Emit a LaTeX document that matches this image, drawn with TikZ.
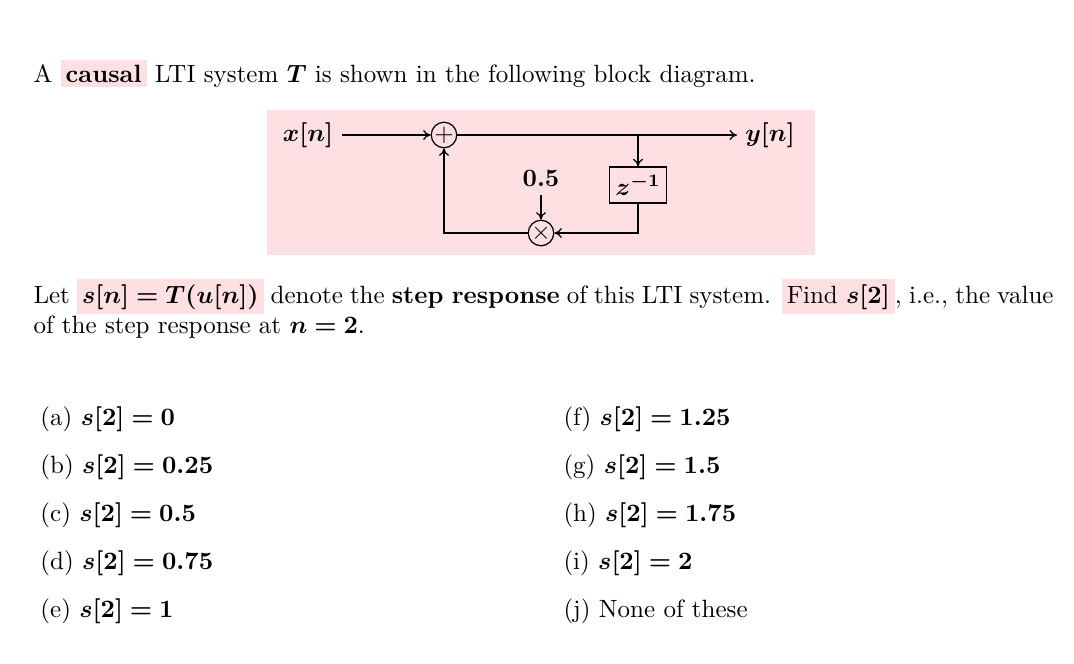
\documentclass[tikz,border=0pt]{standalone}
\usepackage{amsmath,bm}
\usetikzlibrary{arrows.meta}
\definecolor{hl}{RGB}{255,224,226}
\newcommand{\hlx}[1]{{\setlength{\fboxsep}{2pt}\colorbox{hl}{#1}}}
\tikzset{
  txt/.style={anchor=base west, inner sep=0pt},
  wire/.style={line width=0.5pt},
  arr/.style={wire,-{To[length=3pt,width=4pt]}},
  op/.style={circle,draw,line width=0.5pt,minimum size=8.4pt,inner sep=0pt},
  dbox/.style={draw,line width=0.5pt,minimum width=22.8pt,minimum height=14.4pt,inner sep=0pt}
}
\begin{document}
\begin{tikzpicture}[x=0.4pt,y=-0.4pt]
\useasboundingbox (0,0) rectangle (1074,663);
\node[txt] (l1) at (33,82) {A \hlx{\textbf{causal}} LTI system $\bm{T}$ is shown in the following block diagram.};
\fill[hl] (267,110) rectangle (815,255);
\node (x) at (308,135) {$\bm{x[n]}$};
\node[op] (add) at (444,135) {$+$};
\node (y) at (770,135) {$\bm{y[n]}$};
\coordinate (br) at (638,135);
\node[dbox] (d) at (638,185) {$\bm{z^{-1}}$};
\node[op] (mul) at (541,233) {$\times$};
\node (g) at (541,178) {$\bm{0.5}$};
\draw[arr] (x) -- (add);
\draw[arr] (add) -- (737,135) coordinate (yo);
\draw[arr] (br) -- (d);
\draw[arr] (d.south) |- (mul);
\draw[arr] (g) -- (mul);
\draw[arr] (mul) -| (add);
\node[txt] (p1) at (33,303) {\hbox to 408pt{Let \hlx{$\bm{s[n]=T(u[n])}$} denote the \textbf{step response} of this LTI system. \hlx{Find $\bm{s[2]}$}, i.e., the value}};
\node[txt] (p2) at (33,333) {of the step response at $\bm{n=2}$.};
\node[txt] (a) at (40,425) {(a) $\bm{s[2]=0}$};
\node[txt] (b) at (40,473) {(b) $\bm{s[2]=0.25}$};
\node[txt] (c) at (40,521) {(c) $\bm{s[2]=0.5}$};
\node[txt] (dd) at (40,569) {(d) $\bm{s[2]=0.75}$};
\node[txt] (e) at (40,617) {(e) $\bm{s[2]=1}$};
\node[txt] (f) at (563,425) {(f) $\bm{s[2]=1.25}$};
\node[txt] (gg) at (563,473) {(g) $\bm{s[2]=1.5}$};
\node[txt] (h) at (563,521) {(h) $\bm{s[2]=1.75}$};
\node[txt] (i) at (563,569) {(i) $\bm{s[2]=2}$};
\node[txt] (j) at (563,617) {(j) None of these};
\end{tikzpicture}
\end{document}
